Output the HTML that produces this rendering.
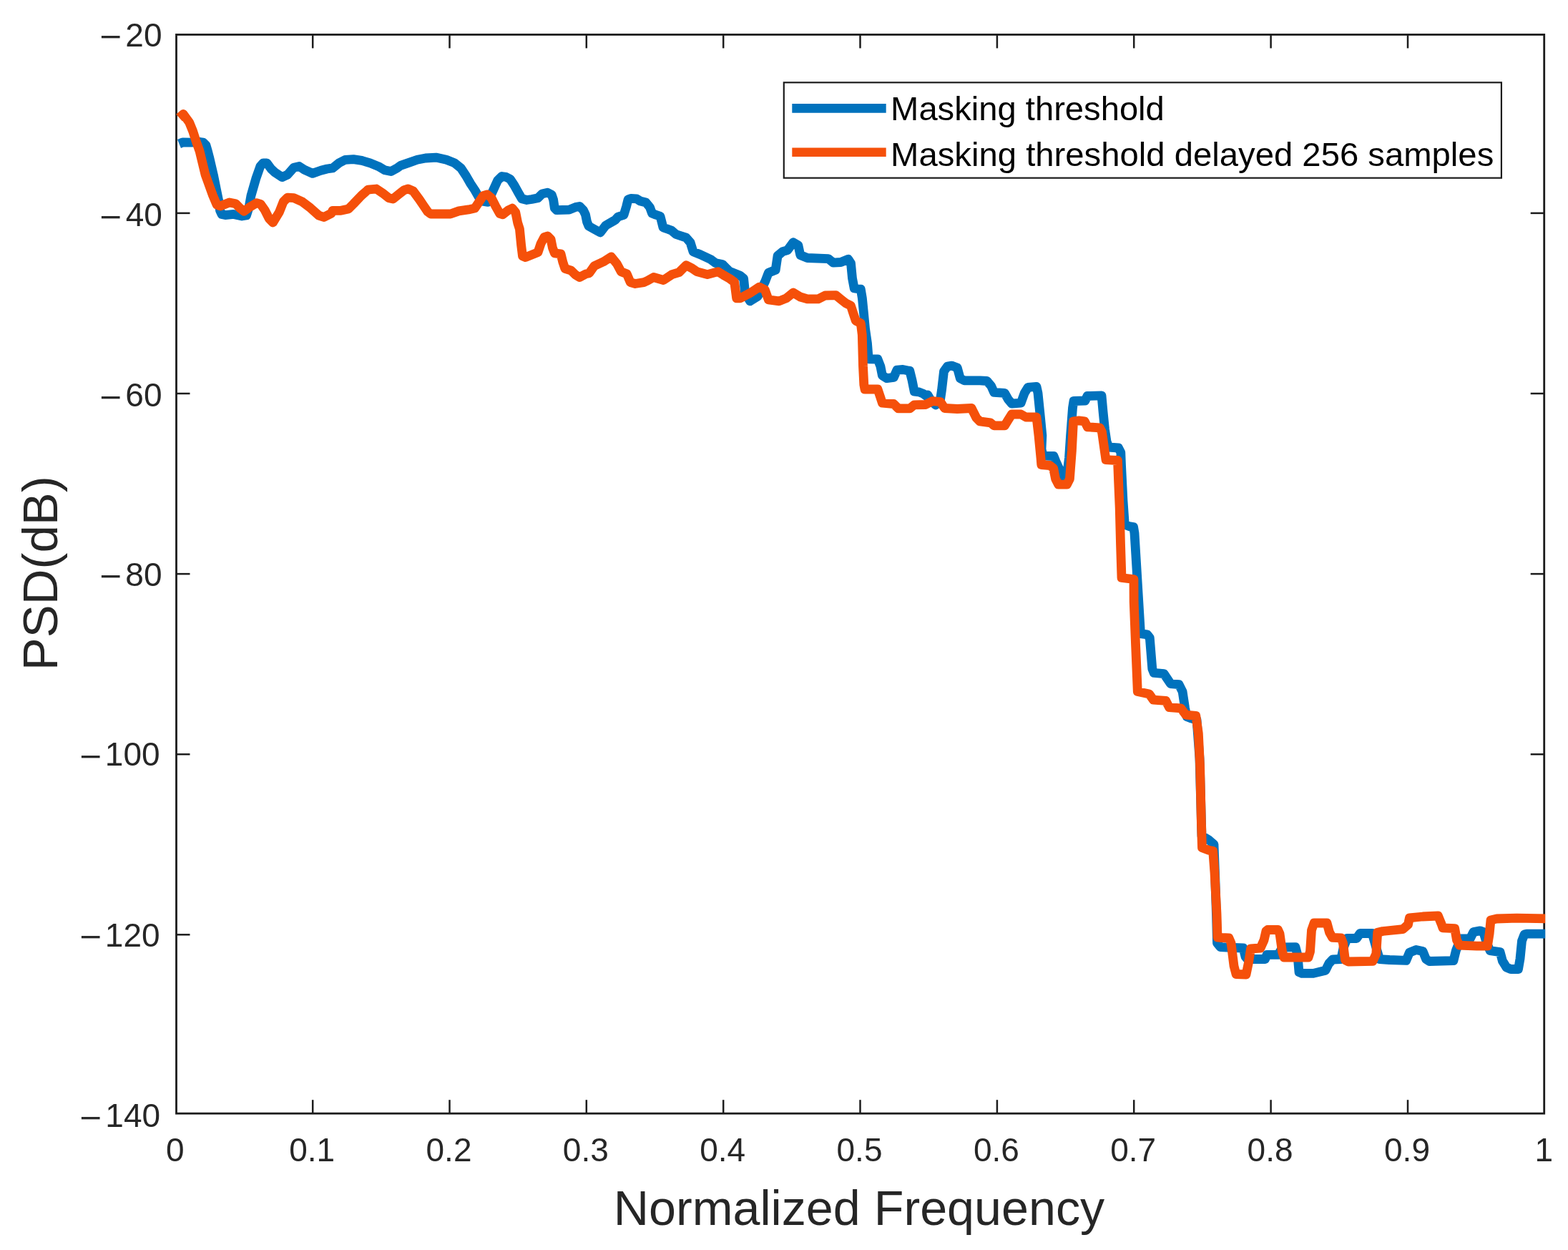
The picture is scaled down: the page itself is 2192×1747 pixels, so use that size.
<!DOCTYPE html>
<html><head><meta charset="utf-8"><title>PSD plot</title>
<style>html,body{margin:0;padding:0;background:#fff;overflow:hidden}svg{display:block}</style>
</head><body>
<svg width="2192" height="1747" viewBox="0 0 2192 1747">
<rect x="0" y="0" width="2192" height="1747" fill="#ffffff"/>
<g stroke="#1c1c1c" stroke-width="2.8" fill="none">
<rect x="246.5" y="48.4" width="1912.2" height="1507.8"/>
</g>
<g stroke="#1c1c1c" stroke-width="2.5" fill="none">
<line x1="437.2" y1="1556.2" x2="437.2" y2="1537.2"/>
<line x1="437.2" y1="48.4" x2="437.2" y2="67.4"/>
<line x1="628.5" y1="1556.2" x2="628.5" y2="1537.2"/>
<line x1="628.5" y1="48.4" x2="628.5" y2="67.4"/>
<line x1="819.8" y1="1556.2" x2="819.8" y2="1537.2"/>
<line x1="819.8" y1="48.4" x2="819.8" y2="67.4"/>
<line x1="1011.2" y1="1556.2" x2="1011.2" y2="1537.2"/>
<line x1="1011.2" y1="48.4" x2="1011.2" y2="67.4"/>
<line x1="1202.5" y1="1556.2" x2="1202.5" y2="1537.2"/>
<line x1="1202.5" y1="48.4" x2="1202.5" y2="67.4"/>
<line x1="1393.9" y1="1556.2" x2="1393.9" y2="1537.2"/>
<line x1="1393.9" y1="48.4" x2="1393.9" y2="67.4"/>
<line x1="1585.2" y1="1556.2" x2="1585.2" y2="1537.2"/>
<line x1="1585.2" y1="48.4" x2="1585.2" y2="67.4"/>
<line x1="1776.6" y1="1556.2" x2="1776.6" y2="1537.2"/>
<line x1="1776.6" y1="48.4" x2="1776.6" y2="67.4"/>
<line x1="1968.0" y1="1556.2" x2="1968.0" y2="1537.2"/>
<line x1="1968.0" y1="48.4" x2="1968.0" y2="67.4"/>
<line x1="246.5" y1="297.9" x2="265.5" y2="297.9"/>
<line x1="2158.7" y1="297.9" x2="2139.7" y2="297.9"/>
<line x1="246.5" y1="550.0" x2="265.5" y2="550.0"/>
<line x1="2158.7" y1="550.0" x2="2139.7" y2="550.0"/>
<line x1="246.5" y1="802.1" x2="265.5" y2="802.1"/>
<line x1="2158.7" y1="802.1" x2="2139.7" y2="802.1"/>
<line x1="246.5" y1="1054.2" x2="265.5" y2="1054.2"/>
<line x1="2158.7" y1="1054.2" x2="2139.7" y2="1054.2"/>
<line x1="246.5" y1="1306.3" x2="265.5" y2="1306.3"/>
<line x1="2158.7" y1="1306.3" x2="2139.7" y2="1306.3"/>
</g>
<defs><clipPath id="c"><rect x="245" y="46.4" width="1915.1999999999998" height="1511.8"/></clipPath></defs>
<g clip-path="url(#c)" fill="none" stroke-linejoin="round" stroke-linecap="butt" stroke-width="12.8">
<polyline points="250.5,201.0 255.3,199.0 267.0,199.2 280.0,198.5 284.0,199.0 288.0,203.0 290.2,210.5 292.6,219.8 298.3,244.1 302.5,265.0 306.0,282.0 307.5,294.0 310.0,299.5 314.9,300.6 326.6,299.4 338.2,302.0 344.5,301.0 348.0,290.0 351.0,273.2 357.7,249.9 363.8,232.5 368.0,227.8 373.0,227.8 379.0,236.0 384.6,241.2 394.4,247.6 402.0,244.1 410.7,234.2 418.3,232.5 425.3,237.1 436.9,242.4 448.6,238.3 457.3,236.0 465.0,234.9 473.7,227.9 482.5,223.3 494.1,222.7 505.7,224.4 517.4,227.9 529.0,232.6 537.8,237.8 546.5,239.6 555.2,234.9 560.0,231.4 571.6,227.4 583.3,223.3 594.9,221.0 609.5,220.1 624.0,223.3 635.7,227.9 644.4,234.9 652.0,246.6 658.0,257.0 664.0,266.0 670.0,276.6 676.0,281.5 682.0,282.4 689.9,264.9 695.7,252.1 701.6,246.5 707.4,247.3 713.2,250.4 719.0,259.1 724.8,269.6 729.5,277.7 736.5,279.5 743.3,278.5 752.0,276.8 757.8,271.0 765.4,269.2 771.2,272.1 773.6,279.1 775.3,290.7 778.2,293.7 795.7,293.1 804.4,289.6 810.2,288.4 815.5,293.7 818.5,300.0 820.5,310.0 823.0,316.0 830.1,320.0 839.2,325.0 846.5,315.3 858.4,308.4 860.0,307.5 864.0,303.0 872.0,300.5 875.5,289.0 878.0,279.0 882.0,277.3 890.0,277.8 895.0,281.0 903.0,283.0 908.5,289.7 911.5,298.0 917.0,300.3 923.0,302.3 925.0,310.0 927.0,318.0 932.0,319.6 939.0,322.3 945.0,327.5 959.2,332.1 965.1,339.0 969.1,351.9 979.0,355.8 993.9,362.8 1000.0,367.4 1009.9,369.4 1019.8,379.3 1034.7,385.2 1039.6,389.2 1041.6,409.0 1048.5,420.9 1059.4,414.0 1069.3,394.2 1074.3,381.3 1084.2,377.3 1087.1,357.5 1094.1,351.6 1101.0,349.6 1108.9,338.7 1115.8,342.7 1118.8,356.5 1128.7,360.5 1157.9,361.6 1164.9,367.2 1175.4,366.5 1185.9,362.3 1189.5,368.0 1191.5,388.9 1194.2,403.0 1203.3,404.2 1205.4,416.8 1207.5,437.8 1209.6,460.0 1212.5,480.0 1214.2,501.8 1227.0,502.0 1230.9,512.0 1233.4,524.8 1239.8,528.7 1249.4,527.4 1253.9,517.1 1262.2,516.5 1271.8,518.4 1275.0,531.2 1278.2,547.2 1284.6,547.9 1291.0,550.4 1295.0,553.6 1296.8,551.9 1302.4,561.2 1308.0,566.0 1314.0,562.0 1316.5,545.0 1319.5,519.0 1324.5,512.1 1330.4,511.1 1338.3,514.1 1342.3,528.9 1348.2,531.9 1370.0,531.9 1379.7,532.5 1385.6,539.4 1389.6,548.3 1404.5,549.3 1409.4,558.2 1414.4,564.2 1427.2,563.2 1432.2,549.3 1437.1,541.4 1449.0,540.4 1451.0,549.3 1454.0,579.0 1456.9,608.7 1456.0,628.0 1458.0,636.0 1462.5,637.1 1473.0,637.5 1476.0,645.0 1481.0,656.0 1483.0,664.0 1486.0,669.0 1491.0,668.0 1494.5,640.0 1496.5,610.0 1499.5,570.0 1501.0,560.5 1517.0,560.0 1520.0,553.5 1540.0,552.8 1542.0,575.0 1544.5,600.0 1547.0,617.0 1550.0,625.0 1563.6,626.0 1566.8,632.4 1567.5,650.0 1570.0,700.0 1572.3,733.0 1578.6,735.6 1584.6,736.6 1586.0,745.0 1594.5,885.7 1603.8,886.9 1607.3,891.5 1610.8,934.6 1613.1,940.4 1627.1,941.6 1631.8,948.6 1636.4,955.6 1648.1,956.7 1653.1,966.6 1656.6,989.8 1659.0,1001.5 1664.8,1003.8 1673.0,1006.0 1677.0,1060.0 1680.0,1168.0 1690.0,1174.0 1697.0,1180.0 1698.5,1220.0 1700.5,1280.0 1701.5,1318.0 1706.0,1323.6 1725.0,1324.5 1738.0,1325.0 1741.0,1337.0 1744.0,1340.5 1768.6,1340.5 1771.0,1334.4 1786.7,1334.4 1793.0,1324.0 1811.0,1323.6 1814.0,1335.0 1816.0,1358.6 1820.0,1360.4 1836.0,1360.4 1853.0,1356.2 1857.8,1346.5 1863.0,1341.0 1874.7,1340.5 1878.0,1325.0 1883.2,1311.5 1896.4,1311.5 1901.3,1304.5 1918.2,1304.5 1928.5,1340.6 1942.4,1341.5 1965.7,1342.4 1970.4,1331.2 1979.7,1327.5 1989.0,1329.4 1993.6,1340.6 1998.3,1343.5 2031.9,1342.7 2035.6,1327.8 2042.1,1311.9 2055.2,1311.9 2059.8,1302.6 2069.1,1300.8 2073.8,1302.6 2078.5,1318.5 2083.1,1328.7 2097.1,1330.6 2100.4,1343.0 2106.0,1352.0 2112.0,1354.5 2122.5,1354.5 2125.0,1340.0 2127.5,1315.0 2131.0,1306.0 2134.3,1305.1 2165.0,1305.1" stroke="#0072BD"/>
<polyline points="250.5,164.5 256.2,159.5 264.6,171.0 269.5,183.0 274.0,197.0 279.0,211.0 287.0,244.0 297.5,273.0 303.0,286.0 308.0,288.0 320.7,283.0 329.5,284.8 335.3,290.7 341.1,295.3 349.8,288.9 358.6,283.7 364.4,285.4 370.2,293.6 376.0,305.2 381.6,311.0 390.4,296.5 396.2,281.9 402.0,276.1 410.7,276.7 422.4,281.9 434.0,290.7 445.7,301.1 452.7,303.5 463.1,298.2 465.0,294.3 476.6,294.3 487.1,292.0 494.1,285.0 505.7,272.8 514.5,265.2 526.1,264.0 534.8,269.8 543.6,276.8 549.4,278.0 558.1,271.0 565.0,265.6 570.5,264.0 577.5,266.9 586.2,278.6 592.0,287.3 598.0,296.0 602.0,299.0 629.8,299.0 641.5,294.9 655.0,292.9 663.7,291.1 669.6,282.4 675.4,273.7 681.2,271.9 687.0,276.6 692.8,288.2 698.7,298.7 702.7,299.8 710.3,294.0 716.1,291.1 720.8,296.9 723.7,311.5 726.4,320.0 728.7,343.3 730.5,357.8 734.6,359.6 743.3,356.1 752.0,352.6 756.1,340.4 760.7,331.6 765.4,329.9 770.1,334.6 772.4,346.2 775.3,353.8 784.0,354.9 786.9,366.6 789.8,375.3 798.6,378.2 804.4,384.0 810.2,387.5 819.0,382.9 823.8,381.7 830.7,371.8 843.6,365.8 854.5,358.9 862.4,368.8 868.3,379.7 876.2,382.7 881.2,394.6 888.1,396.5 900.0,394.6 904.8,392.5 913.7,387.5 927.5,391.5 939.4,383.6 949.3,380.6 959.2,370.7 967.1,374.7 974.1,379.6 988.9,383.6 1003.8,379.6 1011.7,384.6 1019.8,389.2 1026.7,394.2 1029.7,416.9 1034.7,416.9 1049.5,409.0 1061.4,401.1 1069.3,405.0 1074.3,418.9 1089.1,420.9 1099.0,416.9 1108.9,409.0 1118.8,415.0 1128.7,417.9 1143.6,417.9 1153.5,413.0 1168.4,412.6 1175.4,418.2 1182.4,423.8 1189.4,427.3 1192.8,437.8 1196.3,448.2 1203.3,451.7 1205.3,468.0 1206.5,512.0 1207.8,537.6 1209.0,544.0 1227.0,544.0 1230.2,553.6 1233.4,563.2 1249.4,564.5 1255.8,570.9 1271.8,570.9 1278.2,565.8 1293.8,565.5 1303.7,560.6 1314.6,561.6 1320.5,570.5 1338.3,571.5 1358.1,570.5 1364.9,584.0 1369.8,588.9 1384.7,590.9 1389.6,594.9 1404.5,594.9 1409.4,586.9 1414.4,579.0 1427.2,579.0 1434.2,583.0 1449.0,583.0 1452.0,608.7 1455.0,640.0 1455.8,649.5 1467.7,650.5 1472.7,654.5 1475.6,669.3 1479.6,677.2 1491.5,677.2 1495.4,669.3 1498.4,629.7 1500.5,588.9 1508.4,587.9 1516.3,588.9 1520.3,596.8 1537.4,597.8 1540.5,603.8 1543.5,625.0 1546.0,642.6 1562.5,643.5 1563.5,670.0 1565.2,710.0 1566.5,760.0 1568.0,807.5 1576.0,808.5 1585.0,809.5 1585.2,841.5 1587.5,899.7 1590.3,966.6 1606.6,970.1 1612.4,978.2 1629.8,979.4 1634.5,988.7 1650.8,989.8 1657.8,999.2 1671.8,1000.3 1675.3,1024.8 1677.6,1071.3 1679.4,1149.8 1680.5,1184.8 1689.8,1188.3 1695.7,1189.4 1698.0,1219.7 1701.0,1277.2 1702.0,1310.0 1708.0,1310.5 1718.0,1311.0 1721.0,1318.0 1725.0,1350.0 1728.0,1361.5 1742.0,1362.0 1745.5,1345.0 1748.5,1326.0 1762.0,1325.0 1767.0,1314.0 1770.0,1301.0 1772.0,1299.5 1786.5,1299.5 1789.0,1305.0 1792.5,1330.0 1795.0,1338.0 1829.0,1338.0 1831.5,1330.0 1833.5,1300.0 1837.0,1290.0 1855.0,1290.0 1858.5,1303.0 1862.6,1310.3 1874.7,1310.8 1877.5,1318.0 1880.5,1341.7 1885.0,1344.0 1919.1,1343.4 1923.8,1333.1 1925.7,1303.3 1933.1,1301.5 1961.0,1298.7 1968.5,1292.1 1970.4,1282.8 1989.0,1281.0 2010.4,1280.0 2015.0,1291.2 2016.9,1296.8 2033.7,1297.7 2036.5,1313.8 2040.3,1321.2 2064.5,1322.2 2079.4,1322.2 2082.2,1304.5 2084.0,1285.9 2092.4,1284.0 2120.4,1283.1 2165.0,1284.0" stroke="#F5500A"/>
</g>
<g font-family="'Liberation Sans', Arial, Helvetica, sans-serif" font-size="46" fill="#262626">
<text x="226.5" y="64.5" text-anchor="end">20</text>
<text transform="translate(139.6,67.3) scale(1.147,1)" x="0" y="0">−</text>
<text x="226.8" y="316.2" text-anchor="end">40</text>
<text transform="translate(139.6,319.0) scale(1.147,1)" x="0" y="0">−</text>
<text x="226.5" y="568.3" text-anchor="end">60</text>
<text transform="translate(139.6,571.1) scale(1.147,1)" x="0" y="0">−</text>
<text x="226.5" y="818.6" text-anchor="end">80</text>
<text transform="translate(139.6,821.4) scale(1.147,1)" x="0" y="0">−</text>
<text x="223.6" y="1070.0" text-anchor="end">100</text>
<text transform="translate(111.4,1072.8) scale(1.147,1)" x="0" y="0">−</text>
<text x="223.6" y="1322.5" text-anchor="end">120</text>
<text transform="translate(111.4,1325.3) scale(1.147,1)" x="0" y="0">−</text>
<text x="224.1" y="1574.7" text-anchor="end">140</text>
<text transform="translate(111.4,1577.5) scale(1.147,1)" x="0" y="0">−</text>
<text x="244.8" y="1623.3" text-anchor="middle">0</text>
<text x="436.2" y="1623.3" text-anchor="middle">0.1</text>
<text x="627.5" y="1623.3" text-anchor="middle">0.2</text>
<text x="818.8" y="1623.3" text-anchor="middle">0.3</text>
<text x="1010.2" y="1623.3" text-anchor="middle">0.4</text>
<text x="1201.5" y="1623.3" text-anchor="middle">0.5</text>
<text x="1392.9" y="1623.3" text-anchor="middle">0.6</text>
<text x="1584.2" y="1623.3" text-anchor="middle">0.7</text>
<text x="1775.6" y="1623.3" text-anchor="middle">0.8</text>
<text x="1967.0" y="1623.3" text-anchor="middle">0.9</text>
<text x="2158.3" y="1623.3" text-anchor="middle">1</text>
</g>
<text transform="translate(857.7,1711.6) scale(0.995,1)" x="0" y="0" font-family="'Liberation Sans', Arial, Helvetica, sans-serif" font-size="68.6" fill="#262626">Normalized Frequency</text>
<text transform="translate(80.2,937.2) rotate(-90) scale(1.005,1)" x="0" y="0" font-family="'Liberation Sans', Arial, Helvetica, sans-serif" font-size="68.6" fill="#262626">PSD(dB)</text>
<rect x="1095.8" y="115.3" width="1003.1" height="133.4" fill="#ffffff" stroke="#1c1c1c" stroke-width="2.2"/>
<line x1="1107.3" y1="151.3" x2="1238.7" y2="151.3" stroke="#0072BD" stroke-width="12.8"/>
<line x1="1107.3" y1="212.8" x2="1238.7" y2="212.8" stroke="#F5500A" stroke-width="12.5"/>
<text transform="translate(1245.1,167.8) scale(1.0369,1)" x="0" y="0" font-family="'Liberation Sans', Arial, Helvetica, sans-serif" font-size="45.5" fill="#000000">Masking threshold</text>
<text transform="translate(1245.1,232.0) scale(1.0390,1)" x="0" y="0" font-family="'Liberation Sans', Arial, Helvetica, sans-serif" font-size="45.5" fill="#000000">Masking threshold delayed 256 samples</text>
</svg>
</body></html>
